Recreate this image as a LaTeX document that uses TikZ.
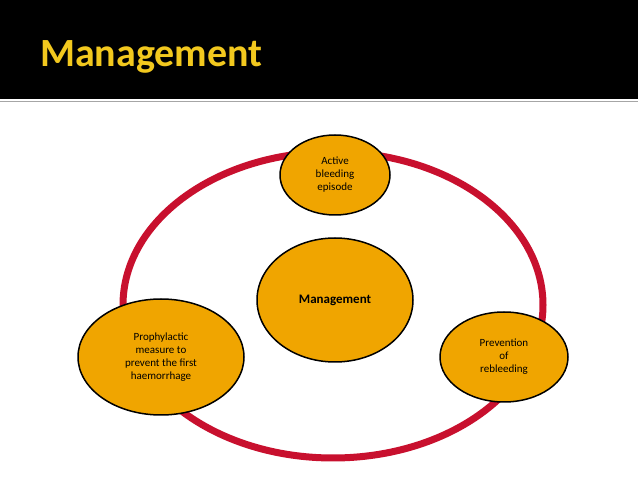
\documentclass[tikz,border=0pt]{standalone}
\usepackage{fontspec}
\setmainfont{Carlito}
\usetikzlibrary{shapes.geometric}
\definecolor{ttl}{HTML}{F2C81E}
\definecolor{ring}{HTML}{C8102E}
\definecolor{nfill}{HTML}{F0A500}
\begin{document}
\begin{tikzpicture}[x=1pt,y=-1pt,
  bub/.style={ellipse,draw=black,line width=1.5pt,fill=nfill,align=center,font=\fontsize{11}{13}\selectfont,inner sep=0pt}]
\useasboundingbox (0,0) rectangle (638,478);
\fill[black] (0,0) rectangle (638,99);
\draw[gray!70,line width=1.2pt] (0,101.5) -- (638,101.5);
\node[anchor=base west,text=ttl,font=\fontsize{40}{44}\bfseries\selectfont,inner sep=0pt] (title) at (40,67) {Management};
\draw[ring,line width=7pt] (333,305) ellipse [x radius=210, y radius=153];
\node[bub,minimum width=110,minimum height=80] (top) at (335,175) {Active\\bleeding\\episode};
\node[bub,minimum width=156,minimum height=124,font=\fontsize{13}{15}\bfseries\selectfont] (mid) at (335,300) {Management};
\node[bub,minimum width=166,minimum height=116] (left) at (161,357) {Prophylactic\\measure to\\prevent the first\\haemorrhage};
\node[bub,minimum width=128,minimum height=90] (right) at (504,357) {Prevention\\of\\rebleeding};
\end{tikzpicture}
\end{document}
